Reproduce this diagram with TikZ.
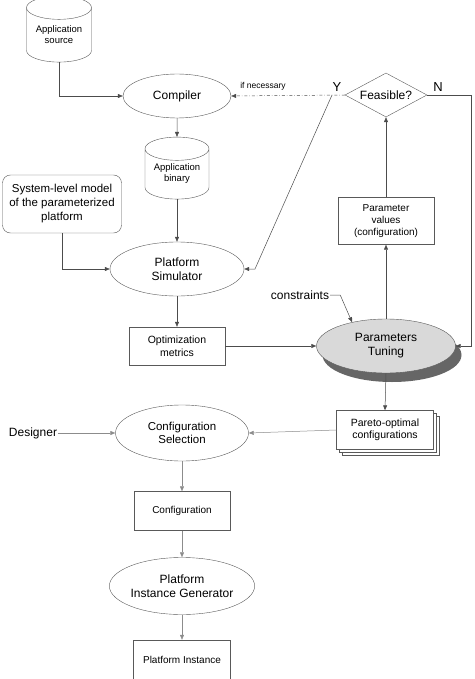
\documentclass[tikz,border=0pt]{standalone}
\usepackage{fontspec}
\setmainfont{Liberation Sans}
\usetikzlibrary{arrows.meta,positioning,shapes,shadows,calc}

\begin{document}
\begin{tikzpicture}[x=1pt, y=-1pt,
    >={Triangle[length=5pt, width=4pt]},
    line/.style={draw=black!70, line width=0.5pt},
    faint/.style={draw=black!45, line width=0.5pt},
    proc/.style={ellipse, draw=black!65, align=center, inner sep=0pt, font=\fontsize{12}{14}\selectfont},
    box/.style={rectangle, draw=black!65, align=center, inner sep=0pt, fill=white, font=\fontsize{10}{12}\selectfont},
    store/.style={cylinder, shape border rotate=90, aspect=0.5, draw=black!65, align=center, inner sep=0pt, font=\fontsize{9.5}{11}\selectfont},
    lbl/.style={font=\fontsize{12}{14}\selectfont, inner sep=1pt}]
    \useasboundingbox (0,0) rectangle (474,679);

    % Sources and compiler
    \node[store, minimum width=65pt, minimum height=66pt] (src) at (59,35) {Application\\source};
    \node[proc, minimum width=108pt, minimum height=44pt] (comp) at (177,96) {Compiler};
    \node[store, minimum width=64pt, minimum height=62pt] (bin) at (177,174) {Application\\binary};
    \node[rectangle, rounded corners=8pt, draw=black!65, align=center, inner sep=0pt,
          minimum width=119pt, minimum height=58pt, font=\fontsize{11.5}{14}\selectfont] (model) at (62,204)
          {System-level model\\of the parameterized\\platform};

    % Simulation
    \node[proc, minimum width=134pt, minimum height=54pt] (sim) at (177,269) {Platform\\Simulator};
    \node[box, minimum width=96pt, minimum height=38pt, font=\fontsize{10.5}{12.5}\selectfont] (metrics) at (177,346) {Optimization\\metrics};

    % Exploration loop
    \node[proc, fill=black!15, minimum width=139pt, minimum height=54pt,
          drop shadow={shadow xshift=6pt, shadow yshift=-9pt, fill=black!60, opacity=1}] (tune) at (386,346) {Parameters\\Tuning};
    \node[box, minimum width=96pt, minimum height=47pt] (params) at (386,221) {Parameter\\values\\(configuration)};
    \node[diamond, aspect=1.86, draw=black!65, inner sep=0pt, minimum width=82pt, minimum height=44pt,
          font=\fontsize{12}{14}\selectfont] (feas) at (386,95) {Feasible?};
    \node[lbl, font=\fontsize{13}{15}\selectfont] (yes) at (337,87) {Y};
    \node[lbl, font=\fontsize{13}{15}\selectfont] (no) at (438,87) {N};
    \node[lbl, font=\fontsize{8.5}{10}\selectfont] (ifnec) at (263,86) {if necessary};
    \node[lbl] (cons) at (300,295) {constraints};
    \coordinate (ypt) at (332,95);
    \coordinate (bend) at (255,269);
    \coordinate (nright) at (471,95);

    % Selection
    \node[box, minimum width=97pt, minimum height=39pt, font=\fontsize{10.5}{12.5}\selectfont,
          double copy shadow={shadow xshift=3pt, shadow yshift=-3pt, draw=black!65, fill=white}] (pareto) at (385,430)
          {Pareto-optimal\\configurations};
    \node[proc, minimum width=133pt, minimum height=56pt, font=\fontsize{11.5}{13.5}\selectfont] (sel) at (182,433) {Configuration\\Selection};
    \node[lbl] (des) at (33,433) {Designer};
    \node[box, minimum width=96pt, minimum height=39pt] (conf) at (182,511) {Configuration};
    \node[proc, minimum width=135pt, minimum height=57pt] (gen) at (182,586) {Platform\\Instance Generator};
    \node[box, minimum width=97pt, minimum height=40pt] (inst) at (182,660) {Platform Instance};

    % Connectors
    \draw[line, ->] (src.south) |- (comp.west);
    \draw[line, ->] (comp) -- (bin);
    \draw[line, ->] (bin) -- (sim);
    \draw[line, ->] (model.south) |- (sim.west);
    \draw[line, ->] (sim) -- (metrics);
    \draw[line, ->] (metrics.east) -- (tune.west);
    \draw[line, ->] (tune) -- (params);
    \draw[line, ->] (params) -- (feas);
    \draw[line, ->] (feas.east) -- (nright) |- (tune.east);
    \draw[line, dash dot, ->] (feas.west) -- (comp.east);
    \draw[line, ->] (ypt) -- (bend) -- (sim.east);
    \draw[line, ->] (cons.east) -- ++(10,0) -- (tune.145);
    \draw[line, ->] (tune.south) -- (pareto.north);
    \draw[faint, ->] (pareto.west) -- (sel.east);
    \draw[faint, ->] (des.east) -- (sel.west);
    \draw[faint, ->] (sel) -- (conf);
    \draw[faint, ->] (conf) -- (gen);
    \draw[faint, ->] (gen) -- (inst);
\end{tikzpicture}
\end{document}
